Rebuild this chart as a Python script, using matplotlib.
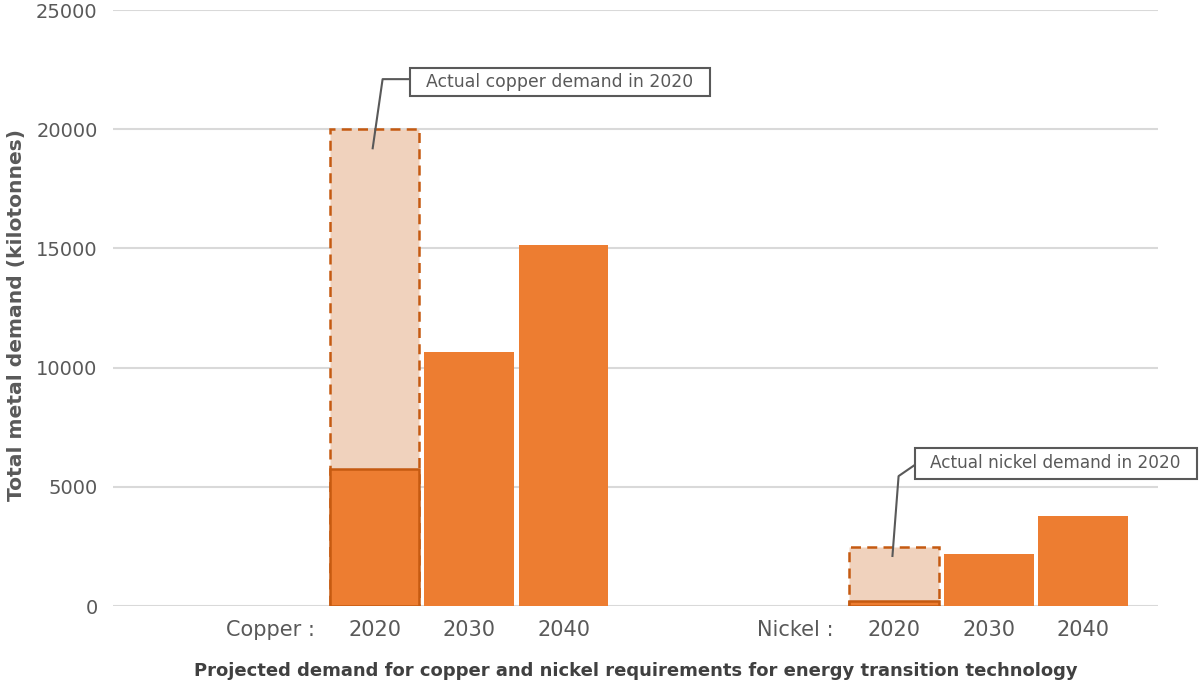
import matplotlib.pyplot as plt
from matplotlib.patches import Rectangle

# values (kilotonnes)
years = ['2020', '2030', '2040']
metals = ['Copper :', 'Nickel :']
copper_transition = [5750, 10650, 15150]
nickel_transition = [230, 2200, 3780]
actual_2020 = [20000, 2470]  # copper, nickel

orange = '#ED7D31'
dark_orange = '#C55A11'
peach = '#F0D2BD'
grey_text = '#595959'

plt.rcParams['font.family'] = ['DejaVu Sans']

fig = plt.figure(figsize=(12, 6.9), dpi=100)
ax = fig.add_axes([0.094, 0.1217, 0.871, 0.8638])

# bar slots: copper at 0..2, nickel at 5.5..7.5
copper_x = [0, 1, 2]
nickel_x = [5.5, 6.5, 7.5]
w = 0.95

# actual 2020 demand (dashed outline boxes)
ax.bar([copper_x[0], nickel_x[0]], actual_2020, width=w, color=peach,
       edgecolor=dark_orange, linestyle=(0, (4, 2.5)), linewidth=1.8, zorder=2)

# 2020 transition demand with outline
ax.bar([copper_x[0], nickel_x[0]], [copper_transition[0], nickel_transition[0]],
       width=w, color=orange, edgecolor=dark_orange, linewidth=1.8, zorder=3)

# 2030 / 2040
ax.bar(copper_x[1:], copper_transition[1:], width=w, color=orange, zorder=3)
ax.bar(nickel_x[1:], nickel_transition[1:], width=w, color=orange, zorder=3)

ax.set_xlim(-2.77, 8.29)
ax.set_ylim(0, 25000)
ax.set_yticks(range(0, 25001, 5000))
ax.yaxis.grid(True, color='#D9D9D9', linewidth=1.5, zorder=0)
ax.set_axisbelow(True)
for s in ax.spines.values():
    s.set_visible(False)

ticks = [-1.1] + copper_x + [4.45] + nickel_x
labels = [metals[0]] + years + [metals[1]] + years
ax.set_xticks(ticks)
ax.set_xticklabels(labels)
ax.tick_params(axis='both', length=0, colors=grey_text)
ax.tick_params(axis='x', pad=10, labelsize=15)
ax.tick_params(axis='y', pad=11, labelsize=14)

ax.set_ylabel('Total metal demand (kilotonnes)', fontsize=14.6, fontweight='bold',
              color=grey_text)
ax.yaxis.set_label_coords(-0.083, 0.488)
ax.set_xlabel('Projected demand for copper and nickel requirements for energy transition technology',
              fontsize=13, fontweight='bold', color='#404040', labelpad=16)

# callouts: box, text, leader line
ax.add_patch(Rectangle((0.37, 21390), 3.175, 1180, facecolor='white', edgecolor=grey_text,
                       linewidth=1.5, zorder=5, clip_on=False))
ax.text(1.958, 21980, 'Actual copper demand in 2020', ha='center', va='center',
        fontsize=12.4, color=grey_text, zorder=6)
ax.plot([0.36, 0.085, -0.02], [22100, 22100, 19200], color=grey_text, linewidth=1.5, zorder=4)

ax.add_patch(Rectangle((5.714, 5330), 2.986, 1300, facecolor='white', edgecolor=grey_text,
                       linewidth=1.5, zorder=5, clip_on=False))
ax.text(7.206, 5980, 'Actual nickel demand in 2020', ha='center', va='center',
        fontsize=12.2, color=grey_text, zorder=6, clip_on=False)
ax.plot([5.71, 5.545, 5.48], [5900, 5450, 2100], color=grey_text, linewidth=1.5, zorder=4)

fig.savefig('out.png', dpi=100)
